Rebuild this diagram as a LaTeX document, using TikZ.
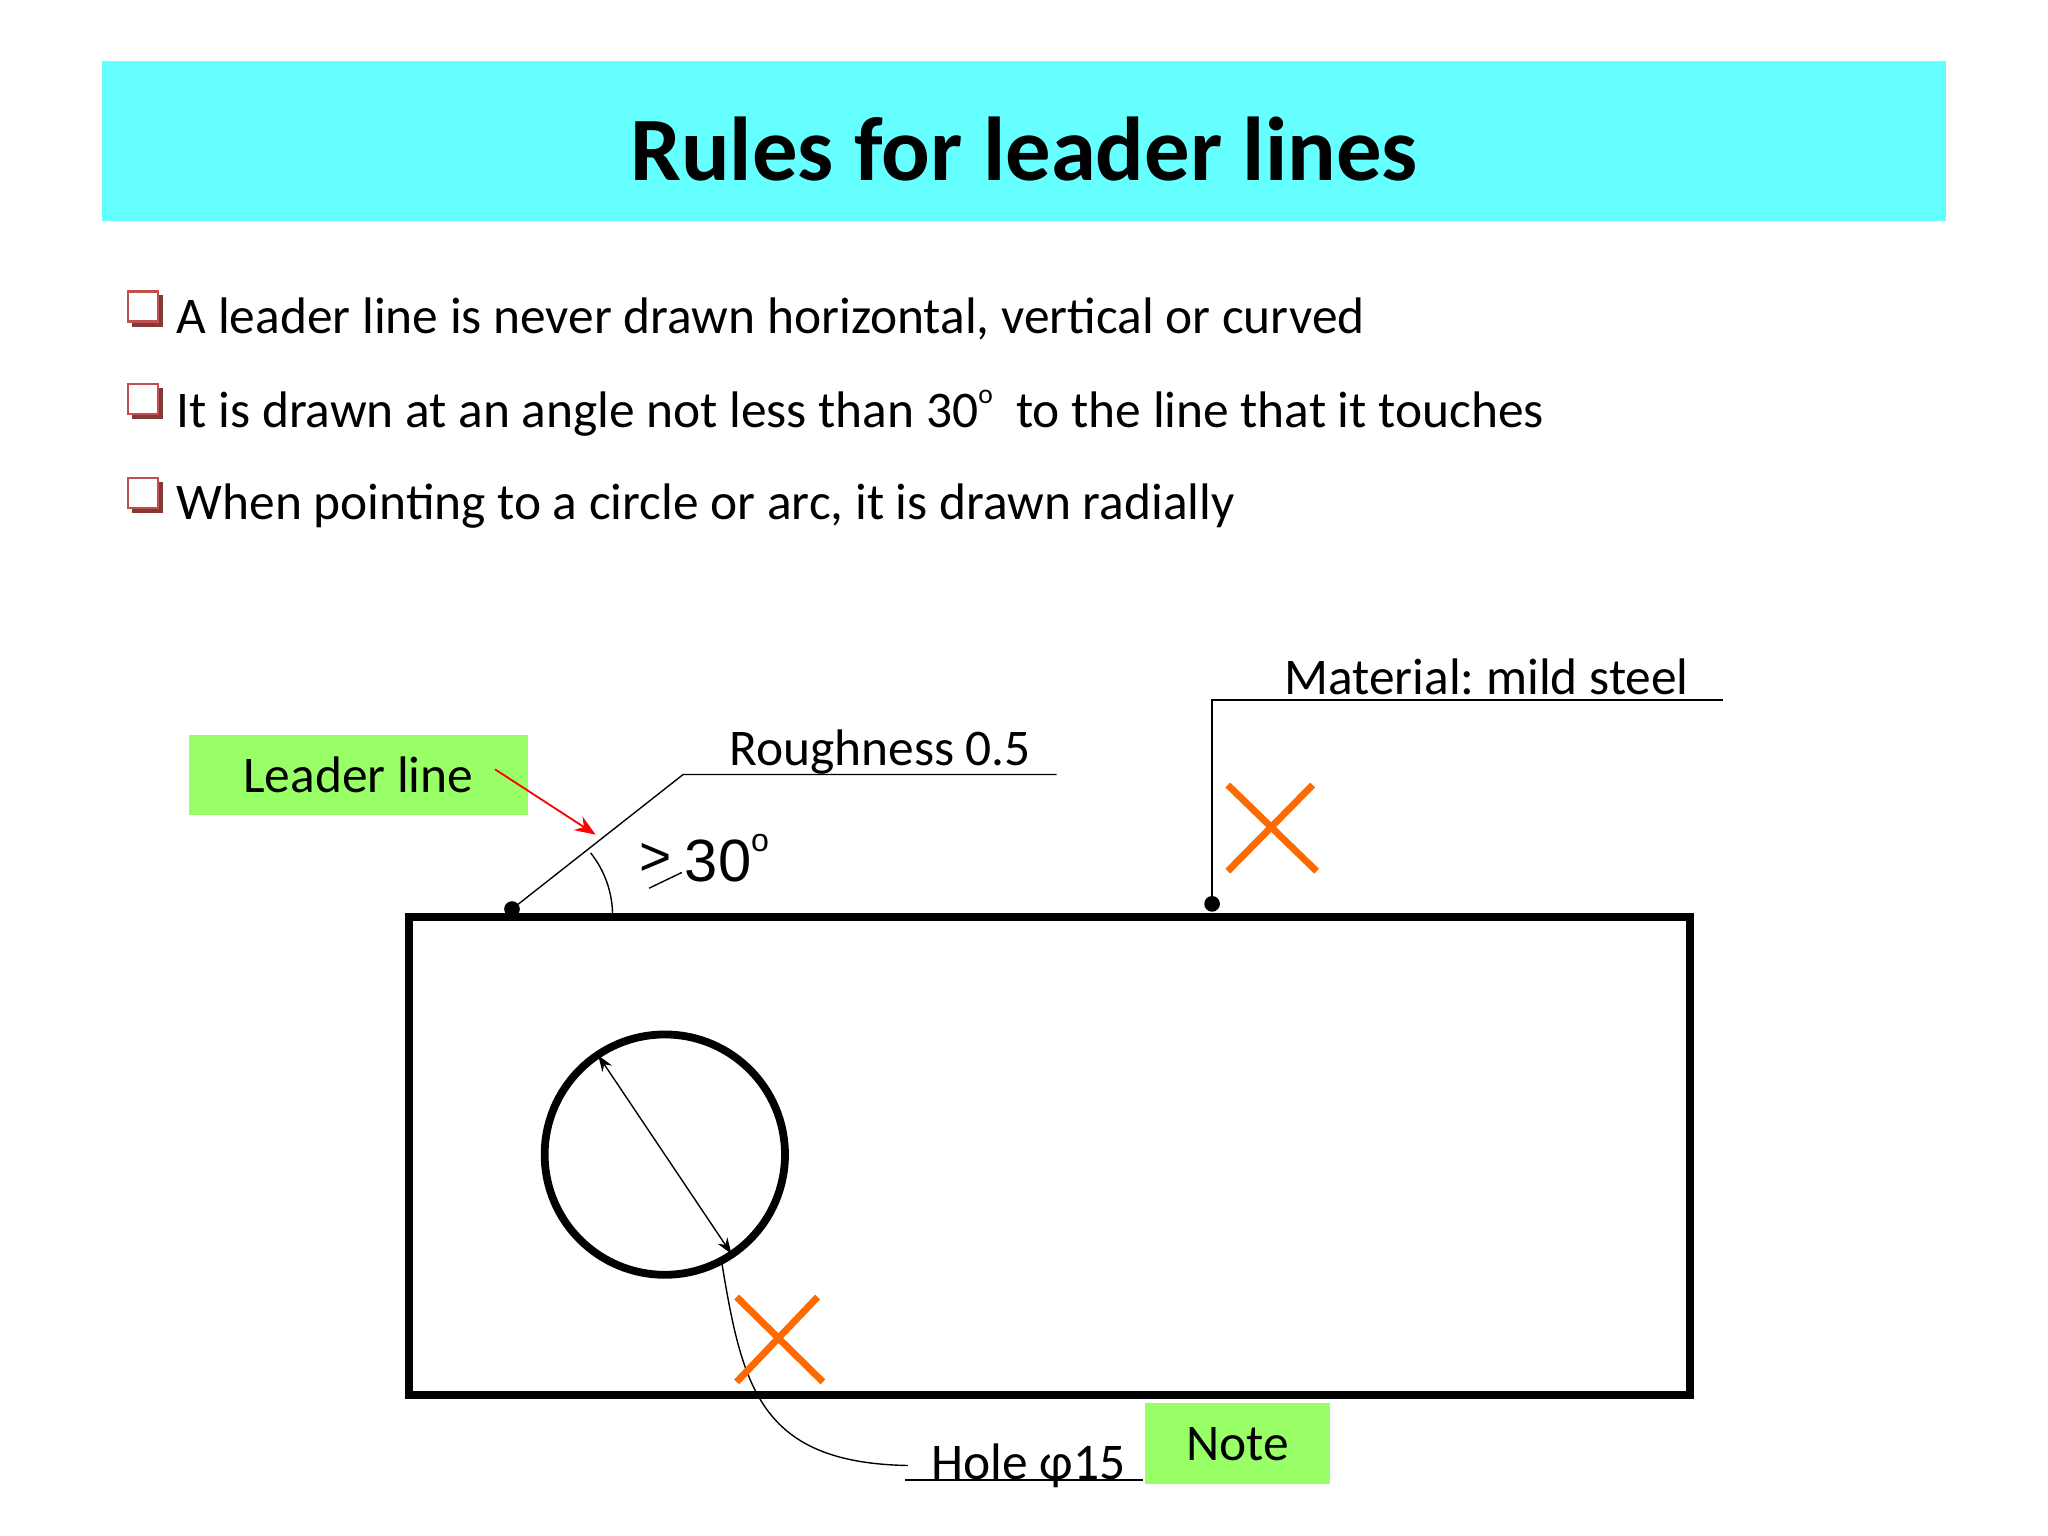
\documentclass[tikz,border=0pt]{standalone}
\usepackage{fontspec}
\setmainfont{Carlito}
\newfontfamily\arialf{Liberation Sans}
\usetikzlibrary{arrows.meta}
\frenchspacing
\definecolor{cyanbar}{HTML}{66FFFF}
\definecolor{greenbox}{HTML}{99FF66}
\definecolor{xorange}{HTML}{FF6A00}
\definecolor{bulletred}{HTML}{C0504D}
\tikzset{
  txt/.style={inner sep=0pt, anchor=base west, font=\fontsize{22.4}{26}\selectfont},
  gbox/.style={fill=greenbox, draw=none, inner sep=0pt, font=\fontsize{22.4}{26}\selectfont},
  thick5/.style={line width=3.4pt},
  xmark/.style={draw=xorange, line width=3pt},
  thin1/.style={line width=0.6pt},
}
\newcommand{\bulbox}[2]{%
  \fill[bulletred!70!black] (#1+3,#2+3) rectangle (#1+27,#2+27);
  \filldraw[fill=white, draw=bulletred, line width=1.2pt] (#1,#2) rectangle (#1+23,#2+23);}
\newcommand{\smallo}{\raisebox{0.45em}{\fontsize{12}{14}\selectfont o}}
\begin{document}
\begin{tikzpicture}[x=0.02cm,y=-0.02cm]
\useasboundingbox (0,0) rectangle (1568,1176);
% title
\fill[cyanbar] (78,47) rectangle (1490,169);
\node[inner sep=0pt, font=\fontsize{39.5}{44}\selectfont\bfseries] (title) at (784,114) {Rules for leader lines};
% bullets
\bulbox{98}{223}
\bulbox{98}{294}
\bulbox{98}{366}
\node[txt] (b1) at (135,255) {A leader line is never drawn horizontal, vertical or curved};
\node[txt] (b2) at (135,327) {It is drawn at an angle not less than 30\smallo\ \ to the line that it touches};
\node[txt] (b3) at (135,398) {When pointing to a circle or arc, it is drawn radially};
% part
\draw[thick5] (313,702) rectangle (1294,1068);
\draw[thick5] (509,884) circle (92);
\coordinate (dA) at (458,808);
\coordinate (dB) at (560,960);
\draw[thin1, {Stealth[length=7pt,width=5pt]}-{Stealth[length=7pt,width=5pt]}] (dA) -- (dB);
% hole leader (wrong, curved)
\coordinate (hs) at (552,963);
\coordinate (he) at (695,1122);
\draw[thin1] (hs) .. controls (568,1060) and (580,1120) .. (he);
\node[txt] (hole) at (713,1133) {Hole φ15};
\draw[thin1] (693,1133) -- (875,1133);
\node[gbox, anchor=north west, minimum width=2.84cm, minimum height=1.24cm] (note) at (876,1074) {Note};
% orange crosses
\draw[xmark] (564,993) -- (630,1058) (626,993) -- (564,1058);
\draw[xmark] (940,601) -- (1008,667) (1005,601) -- (940,667);
% roughness leader
\fill (392,696) circle (6);
\coordinate (r1) at (392,696);
\coordinate (r2) at (523,593);
\coordinate (r3) at (809,593);
\draw[thin1] (r1) -- (r2) -- (r3);
\node[txt] (rough) at (558,586) {Roughness 0.5};
\draw[thin1] (469,701) arc[start angle=0, end angle=-38.5, radius=77];
\node[inner sep=0pt, anchor=base west, font=\fontsize{24}{28}\arialf] (gt) at (489,670) {>};
\draw[thin1] (497,680) -- (522,668);
\node[inner sep=0pt, anchor=base west, font=\fontsize{26}{30}\arialf] (ang) at (524,675) {30\raisebox{0.5em}{\fontsize{14}{16}\selectfont o}};
% leader line label
\node[gbox, anchor=north west, minimum width=5.2cm, minimum height=1.24cm] (ll) at (144,562) {Leader line};
\coordinate (la) at (379,589);
\coordinate (lb) at (456,639);
\draw[red, line width=0.8pt, -{Stealth[length=9pt,width=7pt]}] (la) -- (lb);
% material leader
\fill (928,692) circle (6);
\coordinate (m1) at (928,692);
\coordinate (m2) at (928,536);
\coordinate (m3) at (1319,536);
\draw[thin1] (m1) -- (m2) -- (m3);
\node[txt] (mat) at (983,532) {Material: mild steel};
\end{tikzpicture}
\end{document}
